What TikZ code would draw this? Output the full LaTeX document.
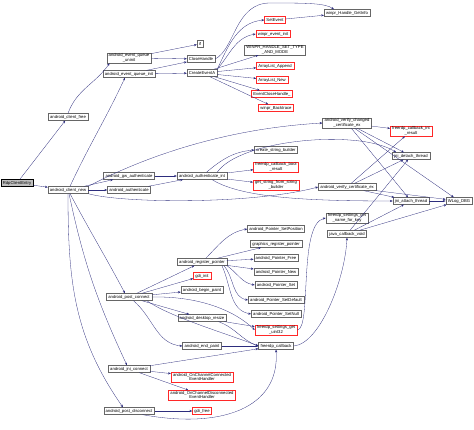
\documentclass[tikz,border=0pt]{standalone}
\usepackage{fontspec}
\setmainfont{Liberation Sans}
\usetikzlibrary{arrows.meta,calc}
\definecolor{edgec}{RGB}{45,45,125}
\definecolor{nodeb}{RGB}{102,102,102}
\definecolor{redb}{RGB}{255,40,40}
\definecolor{entryf}{RGB}{191,191,191}
\begin{document}
\begin{tikzpicture}[x=1pt,y=1pt,
 fn/.style={draw=nodeb, line width=0.3pt, fill=white, font=\fontsize{4.2}{4.8}\selectfont, inner xsep=2pt, inner ysep=0.8pt, minimum height=7pt, align=center},
 ufn/.style={fn, draw=redb},
 entryn/.style={fn, draw=black, fill=entryf},
 e/.style={draw=edgec, line width=0.3pt, -{Stealth[length=2.8pt,width=2.2pt]}}]
\useasboundingbox (0,0) rectangle (474,429);
% nodes
\node[entryn] (entry) at (17,246) {RdpClientEntry};
\node[fn] (cfree) at (68,312) {android\_client\_free};
\node[fn] (cnew) at (68,239) {android\_client\_new};
\node[fn] (equninit) at (129,371) {android\_event\_queue\\\_uninit};
\node[fn] (equinit) at (129,355) {android\_event\_queue\_init};
\node[fn] (gwauth) at (129,253) {android\_gw\_authenticate};
\node[fn] (auth) at (129,239) {android\_authenticate};
\node[fn] (postconn) at (129,132) {android\_post\_connect};
\node[fn] (jniconn) at (129,60) {android\_jni\_connect};
\node[fn] (postdisc) at (129,18) {android\_post\_disconnect};
\node[fn] (iff) at (200,385) {if};
\node[fn] (closeh) at (201,370) {CloseHandle};
\node[fn] (createev) at (202,356) {CreateEventA};
\node[ufn] (setev) at (275,409) {SetEvent};
\node[ufn] (evinit) at (273,395) {winpr\_event\_init};
\node[fn] (settype) at (275,379) {WINPR\_HANDLE\_SET\_TYPE\\\_AND\_MODE};
\node[ufn] (alappend) at (275,363) {ArrayList\_Append};
\node[ufn] (alnew) at (272,349) {ArrayList\_New};
\node[ufn] (evclose) at (272,335) {EventCloseHandle\_};
\node[ufn] (backtrace) at (276,321) {winpr\_Backtrace};
\node[fn] (getinfo) at (347,416) {winpr\_Handle\_GetInfo};
\node[fn] (authint) at (202,253) {android\_authenticate\_int};
\node[fn] (csb) at (276,279) {create\_string\_builder};
\node[ufn] (cbbool) at (276,262) {freerdp\_callback\_bool\\\_result};
\node[ufn] (gsfsb) at (276,244) {get\_string\_from\_string\\\_builder};
\node[fn] (vchanged) at (347,306) {android\_verify\_changed\\\_certificate\_ex};
\node[ufn] (cbint) at (411,298) {freerdp\_callback\_int\\\_result};
\node[fn] (detach) at (411,273) {jni\_detach\_thread};
\node[fn] (vcert) at (347,242) {android\_verify\_certificate\_ex};
\node[fn] (attach) at (411,228) {jni\_attach\_thread};
\node[fn] (wlog) at (459,228) {WLog\_DBG};
\node[fn] (getname) at (347,211) {freerdp\_settings\_get\\\_name\_for\_key};
\node[fn] (javacb) at (347,195) {java\_callback\_void};
\node[fn] (setpos) at (276,200) {android\_Pointer\_SetPosition};
\node[fn] (grp) at (276,185) {graphics\_register\_pointer};
\node[fn] (regptr) at (202,167) {android\_register\_pointer};
\node[fn] (pfree) at (276,171) {android\_Pointer\_Free};
\node[ufn] (gdiinit) at (202,153) {gdi\_init};
\node[fn] (pnew) at (276,157) {android\_Pointer\_New};
\node[fn] (beginp) at (202,139) {android\_begin\_paint};
\node[fn] (pset) at (276,144) {android\_Pointer\_Set};
\node[fn] (psetdef) at (276,129) {android\_Pointer\_SetDefault};
\node[fn] (dresize) at (202,111) {android\_desktop\_resize};
\node[fn] (psetnull) at (276,115) {android\_Pointer\_SetNull};
\node[ufn] (getu32) at (276,99) {freerdp\_settings\_get\\\_uint32};
\node[fn] (endp) at (202,83) {android\_end\_paint};
\node[fn] (fcb) at (276,83) {freerdp\_callback};
\node[ufn] (onconn) at (202,52) {android\_OnChannelConnected\\EventHandler};
\node[ufn] (ondisc) at (202,34) {android\_OnChannelDisconnected\\EventHandler};
\node[ufn] (gdifree) at (202,18) {gdi\_free};
% edges
\draw[e] (entry) -- (cfree);
\draw[e] (entry) -- (cnew);
\draw[e] (cfree.north) to[out=70,in=-125] ($(equninit.south west)+(3,0)$);
\draw[e] ($(cnew.north)+(2,0)$) to[out=65,in=-115] ($(equinit.south)+(-4,0)$);
\draw[e] (cnew) -- (gwauth);
\draw[e] (cnew) -- (auth);
\draw[e] (cnew.north east) .. controls (140,270) and (220,300) .. (vchanged.west);
\draw[e] (cnew.south east) .. controls (120,226) and (250,224) .. (vcert.west);
\draw[e] ($(cnew.south)+(2,0)$) to[out=-62,in=118] ($(postconn.north)+(-4,0)$);
\draw[e] ($(cnew.south)+(1,0)$) to[out=-78,in=115] ($(jniconn.north)+(-2,0)$);
\draw[e] (cnew.south) to[out=-90,in=125] ($(postdisc.north)+(-6,0)$);
\draw[e] (equninit) -- (iff);
\draw[e] (equninit) -- (closeh);
\draw[e] (equinit) -- (closeh);
\draw[e] (equinit) -- (createev);
\draw[e] (closeh.east) .. controls (235,380) and (235,426) .. (270,426) .. controls (305,426) and (325,426) .. ($(getinfo.north west)+(10,0)$);
\draw[e] (setev) -- (getinfo);
\draw[e] (createev.north east) to[out=65,in=185] (setev.west);
\draw[e] (createev.north east) to[out=50,in=190] (evinit.west);
\draw[e] (createev) -- (settype);
\draw[e] (createev) -- (alappend);
\draw[e] (createev) -- (alnew);
\draw[e] (createev) -- (evclose);
\draw[e] (createev) -- (backtrace);
\draw[e] (gwauth) -- (authint);
\draw[e] (auth) -- (authint);
\draw[e] (authint) to[out=40,in=185] (csb.west);
\draw[e] (authint) -- (cbbool);
\draw[e] (authint) -- (gsfsb);
\draw[e] ($(authint.north east)+(-10,0)$) .. controls (240,290) and (360,300) .. ($(detach.north west)+(4,0)$);
\draw[e] ($(authint.south east)+(-15,0)$) .. controls (240,232) and (300,228) .. (attach.west);
\draw[e] (vchanged) -- (cbint);
\draw[e] (vchanged) -- (detach);
\draw[e] (vchanged) -- (attach);
\draw[e] (vchanged) -- (wlog);
\draw[e] (vcert) -- (cbint);
\draw[e] (vcert) -- (detach);
\draw[e] (vcert) -- (attach);
\draw[e] (vcert) -- (wlog);
\draw[e] (attach) -- (wlog);
\draw[e] (javacb) -- (detach);
\draw[e] (javacb) -- (attach);
\draw[e] (javacb) -- (wlog);
\draw[e] (postconn) -- (regptr);
\draw[e] (postconn) -- (gdiinit);
\draw[e] (postconn) -- (beginp);
\draw[e] (postconn) -- (dresize);
\draw[e] (postconn) to[out=-40,in=175] (endp.west);
\draw[e] (postconn.east) .. controls (200,133) and (235,118) .. (getu32.west);
\draw[e] ($(postconn.south east)+(-5,0)$) .. controls (170,112) and (225,96) .. (fcb.west);
\draw[e] (regptr) to[out=45,in=190] (setpos.west);
\draw[e] (regptr) -- (grp);
\draw[e] (regptr) -- (pfree);
\draw[e] (regptr) -- (pnew);
\draw[e] (regptr.south east) to[out=-35,in=170] (pset.west);
\draw[e] ($(regptr.south east)+(-3,0)$) to[out=-50,in=170] (psetdef.west);
\draw[e] ($(regptr.south east)+(-5,0)$) to[out=-65,in=170] (psetnull.west);
\draw[e] (dresize) -- (getu32);
\draw[e] ($(dresize.south east)+(-8,0)$) to[out=-20,in=160] (fcb.west);
\draw[e] (endp) -- (fcb);
\draw[e] (jniconn) -- (fcb);
\draw[e] (jniconn) -- (onconn);
\draw[e] (jniconn) -- (ondisc);
\draw[e] (postdisc) -- (gdifree);
\draw[e] ($(postdisc.south east)+(-12,0)$) .. controls (220,0) and (280,20) .. (fcb.south);
\draw[e] (getu32.east) .. controls (312,100) and (298,205) .. (getname.west);
\draw[e] (fcb.east) .. controls (320,85) and (345,150) .. (javacb.south);
\end{tikzpicture}
\end{document}
